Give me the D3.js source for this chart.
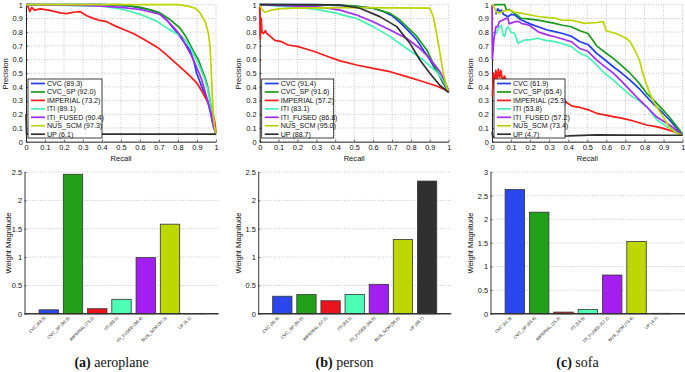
<!DOCTYPE html>
<html><head><meta charset="utf-8">
<script src="https://cdn.jsdelivr.net/npm/d3@7"></script>
<style>
body{margin:0;background:#fff}
svg{display:block}
text{font-family:"Liberation Sans",Arial,sans-serif}
text.caption{font-family:"Liberation Serif","Times New Roman",serif}
</style>
</head><body>
<svg id="chart" width="685" height="372"></svg>
<script>
// ---------------- DATA ----------------
const methods = ["CVC", "CVC_SP", "IMPERIAL", "ITI", "ITI_FUSED", "NUS_SCM", "UP"];
const classNames = ["aeroplane", "person", "sofa"];
const captionLetters = ["(a)", "(b)", "(c)"];

// average precision shown in legends / bar labels
const apAero = [89.3, 92.0, 73.2, 89.1, 90.4, 97.3, 6.1];
const apPerson = [91.4, 91.6, 57.2, 83.1, 86.8, 95.0, 88.7];
const apSofa = [61.9, 65.4, 25.3, 53.8, 57.2, 73.4, 4.7];

// weight magnitudes (bar charts)
const weightsAero = [0.07, 2.46, 0.09, 0.255, 0.99, 1.58, 0.004];
const weightsPerson = [0.31, 0.34, 0.23, 0.34, 0.52, 1.31, 2.34];
const weightsSofa = [2.63, 2.15, 0.036, 0.09, 0.82, 1.53, 0.01];

// tick values
const prTicks = [0, 0.1, 0.2, 0.3, 0.4, 0.5, 0.6, 0.7, 0.8, 0.9, 1];
const weightTicksAB = [0, 0.5, 1, 1.5, 2, 2.5];
const weightTicksC = [0, 0.5, 1, 1.5, 2, 2.5, 3];

// precision-recall curves: [recall, precision]
const aeroCVC = [[0,1],[0.4,1],[0.55,0.99],[0.63,0.97],[0.7,0.94],[0.74,0.89],[0.775,0.83],[0.8,0.79],[0.83,0.73],[0.863,0.67],[0.88,0.6],[0.89,0.55],[0.898,0.5],[0.912,0.45],[0.925,0.4],[0.942,0.35],[0.955,0.3],[0.968,0.23],[0.986,0.11],[1,0.06]];
const aeroCVCSP = [[0,1],[0.5,1],[0.6,0.98],[0.66,0.96],[0.705,0.94],[0.76,0.89],[0.81,0.83],[0.84,0.77],[0.863,0.71],[0.885,0.65],[0.907,0.6],[0.925,0.53],[0.942,0.47],[0.955,0.41],[0.963,0.35],[0.977,0.23],[0.99,0.11],[1,0.06]];
const aeroIMPERIAL = [[0.005,1],[0.01,0.99],[0.02,0.95],[0.03,0.98],[0.045,0.96],[0.075,0.97],[0.12,0.96],[0.18,0.94],[0.214,0.935],[0.25,0.945],[0.284,0.95],[0.32,0.92],[0.354,0.9],[0.39,0.885],[0.425,0.876],[0.477,0.84],[0.52,0.815],[0.565,0.79],[0.61,0.755],[0.653,0.72],[0.69,0.69],[0.72,0.657],[0.755,0.615],[0.79,0.572],[0.84,0.51],[0.87,0.47],[0.898,0.43],[0.925,0.37],[0.95,0.305],[0.97,0.25],[0.986,0.195],[0.995,0.13],[1,0.06]];
const aeroITI = [[0,1],[0.4,0.99],[0.5,0.97],[0.6,0.93],[0.688,0.88],[0.73,0.84],[0.758,0.815],[0.79,0.79],[0.82,0.768],[0.845,0.73],[0.863,0.69],[0.885,0.63],[0.907,0.57],[0.925,0.51],[0.942,0.45],[0.955,0.39],[0.968,0.3],[0.98,0.18],[0.99,0.1],[1,0.06]];
const aeroITIFUSED = [[0,1],[0.3,0.995],[0.4,0.99],[0.5,0.98],[0.6,0.965],[0.705,0.93],[0.75,0.875],[0.79,0.815],[0.82,0.76],[0.846,0.69],[0.87,0.63],[0.89,0.57],[0.908,0.51],[0.925,0.45],[0.95,0.33],[0.974,0.206],[0.99,0.097],[1,0.06]];
const aeroNUSSCM = [[0,1],[0.8,1],[0.85,0.99],[0.89,0.975],[0.91,0.95],[0.925,0.92],[0.945,0.87],[0.96,0.79],[0.968,0.7],[0.974,0.55],[0.98,0.35],[0.986,0.2],[0.993,0.1],[1,0.06]];
const aeroUP = [[0,0.2],[0.003,0.055],[1,0.055]];

const personCVC = [[0,1],[0.3,1],[0.5,0.99],[0.6,0.975],[0.654,0.95],[0.7,0.92],[0.75,0.86],[0.8,0.79],[0.83,0.745],[0.87,0.66],[0.9,0.6],[0.925,0.54],[0.945,0.5],[0.97,0.43],[1,0.36]];
const personCVCSP = [[0,1],[0.425,0.998],[0.5,0.99],[0.6,0.974],[0.69,0.937],[0.74,0.89],[0.778,0.84],[0.83,0.77],[0.884,0.67],[0.918,0.57],[0.954,0.475],[0.98,0.41],[1,0.365]];
const personIMPERIAL = [[0,0.985],[0.003,0.75],[0.008,0.9],[0.012,0.8],[0.02,0.79],[0.03,0.81],[0.037,0.79],[0.055,0.77],[0.08,0.74],[0.116,0.73],[0.15,0.706],[0.204,0.694],[0.25,0.675],[0.293,0.657],[0.363,0.62],[0.425,0.59],[0.513,0.56],[0.6,0.535],[0.69,0.511],[0.778,0.475],[0.866,0.438],[0.936,0.407],[0.98,0.38],[1,0.36]];
const personITI = [[0,1],[0.1,0.99],[0.2,0.98],[0.3,0.966],[0.4,0.94],[0.45,0.92],[0.513,0.9],[0.6,0.84],[0.69,0.767],[0.778,0.68],[0.866,0.596],[0.936,0.51],[0.97,0.45],[0.989,0.4],[1,0.36]];
const personITIFUSED = [[0,1],[0.2,0.99],[0.3,0.985],[0.36,0.975],[0.425,0.96],[0.513,0.925],[0.6,0.876],[0.69,0.815],[0.778,0.754],[0.848,0.68],[0.9,0.608],[0.954,0.51],[0.98,0.44],[1,0.37]];
const personNUSSCM = [[0,1],[0.01,0.97],[0.026,0.945],[0.04,0.95],[0.06,0.96],[0.1,0.97],[0.185,0.975],[0.5,0.978],[0.9,0.975],[0.918,0.915],[0.936,0.79],[0.954,0.645],[0.971,0.5],[0.993,0.38],[1,0.36]];
const personUP = [[0,1],[0.425,0.998],[0.53,0.974],[0.636,0.913],[0.725,0.84],[0.795,0.718],[0.848,0.596],[0.9,0.5],[0.954,0.41],[1,0.36]];

const sofaCVC = [[0.02,0.93],[0.03,0.97],[0.04,0.95],[0.05,0.96],[0.06,0.93],[0.084,0.912],[0.1,0.93],[0.119,0.925],[0.154,0.888],[0.2,0.86],[0.241,0.839],[0.29,0.815],[0.329,0.803],[0.37,0.79],[0.416,0.77],[0.461,0.73],[0.503,0.71],[0.549,0.645],[0.59,0.6],[0.636,0.547],[0.68,0.5],[0.724,0.45],[0.77,0.39],[0.811,0.328],[0.85,0.27],[0.898,0.206],[0.93,0.16],[0.969,0.097],[1,0.05]];
const sofaCVCSP = [[0.01,1],[0.04,1],[0.067,1],[0.075,0.96],[0.09,0.965],[0.119,0.937],[0.154,0.9],[0.2,0.895],[0.241,0.888],[0.29,0.875],[0.329,0.864],[0.37,0.85],[0.416,0.839],[0.461,0.81],[0.503,0.79],[0.549,0.7],[0.59,0.655],[0.636,0.608],[0.68,0.555],[0.724,0.5],[0.77,0.43],[0.811,0.353],[0.85,0.3],[0.898,0.23],[0.93,0.18],[0.969,0.11],[1,0.055]];
const sofaIMPERIAL = [[0.002,0.33],[0.008,0.5],[0.015,0.42],[0.02,0.52],[0.027,0.45],[0.033,0.53],[0.04,0.47],[0.047,0.52],[0.055,0.44],[0.065,0.48],[0.08,0.43],[0.1,0.41],[0.15,0.38],[0.2,0.36],[0.25,0.34],[0.3,0.32],[0.35,0.305],[0.388,0.29],[0.42,0.26],[0.461,0.25],[0.51,0.23],[0.549,0.207],[0.636,0.183],[0.685,0.17],[0.724,0.158],[0.811,0.122],[0.86,0.11],[0.898,0.097],[0.95,0.075],[1,0.05]];
const sofaITI = [[0.005,0.72],[0.015,0.8],[0.023,0.79],[0.035,0.83],[0.049,0.85],[0.058,0.78],[0.066,0.767],[0.075,0.82],[0.084,0.84],[0.1,0.8],[0.119,0.79],[0.136,0.718],[0.15,0.73],[0.171,0.742],[0.2,0.745],[0.241,0.755],[0.28,0.74],[0.329,0.73],[0.37,0.715],[0.416,0.694],[0.461,0.645],[0.503,0.62],[0.549,0.56],[0.59,0.5],[0.636,0.45],[0.68,0.395],[0.724,0.34],[0.77,0.3],[0.811,0.255],[0.864,0.16],[0.916,0.11],[0.96,0.08],[1,0.05]];
const sofaITIFUSED = [[0,1],[0.002,0.6],[0.01,0.75],[0.021,0.84],[0.031,0.84],[0.038,0.875],[0.06,0.89],[0.073,0.9],[0.084,0.9],[0.09,0.86],[0.119,0.876],[0.143,0.876],[0.154,0.864],[0.196,0.85],[0.241,0.803],[0.29,0.78],[0.329,0.766],[0.37,0.75],[0.416,0.73],[0.461,0.68],[0.503,0.66],[0.549,0.596],[0.59,0.55],[0.636,0.5],[0.68,0.44],[0.724,0.377],[0.77,0.31],[0.811,0.255],[0.864,0.18],[0.933,0.12],[0.97,0.08],[1,0.05]];
const sofaNUSSCM = [[0,1],[0.012,0.98],[0.02,0.95],[0.038,0.937],[0.06,0.955],[0.09,0.96],[0.12,0.945],[0.16,0.937],[0.2,0.925],[0.248,0.912],[0.3,0.905],[0.336,0.9],[0.363,0.888],[0.423,0.885],[0.486,0.864],[0.55,0.87],[0.584,0.876],[0.598,0.81],[0.65,0.79],[0.703,0.755],[0.724,0.73],[0.745,0.68],[0.772,0.6],[0.793,0.49],[0.81,0.42],[0.828,0.35],[0.86,0.26],[0.898,0.18],[0.933,0.1],[0.965,0.065],[1,0.047]];
const sofaUP = [[0,0.07],[0.005,0.035],[0.1,0.04],[0.4,0.043],[0.55,0.05],[0.7,0.048],[1,0.047]];

// ---------------- STYLE / LAYOUT ----------------
const lineColors = ["#1f3df5", "#1c9a1c", "#ff1a1a", "#45f2b2", "#a32cf5", "#bcd400", "#303030"];
const barColors  = ["#2a47ee", "#22a01a", "#e8141e", "#4dffb4", "#a21ff0", "#bcd800", "#303030"];

const panels = [
  {ap: apAero, weights: weightsAero, wTicks: weightTicksAB,
   curves: [aeroCVC, aeroCVCSP, aeroIMPERIAL, aeroITI, aeroITIFUSED, aeroNUSSCM, aeroUP]},
  {ap: apPerson, weights: weightsPerson, wTicks: weightTicksAB,
   curves: [personCVC, personCVCSP, personIMPERIAL, personITI, personITIFUSED, personNUSSCM, personUP]},
  {ap: apSofa, weights: weightsSofa, wTicks: weightTicksC,
   curves: [sofaCVC, sofaCVCSP, sofaIMPERIAL, sofaITI, sofaITIFUSED, sofaNUSSCM, sofaUP]}
];
const layout = [
  {x0: 26,    x1: 216,   legW: 74, labX: 5,   wlabX: 8,   capX: 111.5},
  {x0: 259.7, x1: 448.7, legW: 72, labX: 238, wlabX: 238, capX: 344.5},
  {x0: 492,   x1: 682.7, legW: 71, labX: 470, wlabX: 470, capX: 577.5}
];
const prTop = 4.7, prBottom = 141.7, barTop = 172, barBottom = 313.8;
const fmt = v => String(+v.toFixed(1));
const gridStyle = s => s.attr("stroke", "#9a9a9a").attr("stroke-width", 0.6).attr("stroke-dasharray", "1,1.6");

const svg = d3.select("#chart");
svg.append("rect").attr("width", 685).attr("height", 372).attr("fill", "#fff");

panels.forEach((pn, k) => {
  const L = layout[k];
  const g = svg.append("g");
  const labels = methods.map((m, i) => `${m} (${pn.ap[i].toFixed(1)})`);

  // ===== Precision-recall plot =====
  const x = d3.scaleLinear().domain([0, 1]).range([L.x0, L.x1]);
  const y = d3.scaleLinear().domain([0, 1]).range([prBottom, prTop]);

  g.append("g").selectAll("line").data(prTicks).join("line")
    .attr("x1", d => x(d)).attr("x2", d => x(d)).attr("y1", prTop).attr("y2", prBottom).call(gridStyle);
  g.append("g").selectAll("line").data(prTicks).join("line")
    .attr("y1", d => y(d)).attr("y2", d => y(d)).attr("x1", L.x0).attr("x2", L.x1).call(gridStyle);

  const xa = g.append("g").attr("transform", `translate(0,${prBottom})`)
    .call(d3.axisBottom(x).tickValues(prTicks).tickFormat(fmt).tickSizeInner(-2).tickSizeOuter(0).tickPadding(2.6));
  const ya = g.append("g").attr("transform", `translate(${L.x0},0)`)
    .call(d3.axisLeft(y).tickValues(prTicks).tickFormat(fmt).tickSizeInner(-2).tickSizeOuter(0).tickPadding(3.2));
  [xa, ya].forEach(a => {
    a.selectAll("text").attr("font-size", 7.4).attr("fill", "#111");
    a.select(".domain").attr("stroke", "#111").attr("stroke-width", 0.9);
    a.selectAll(".tick line").attr("stroke", "#111").attr("stroke-width", 0.6);
  });

  const line = d3.line().x(d => x(d[0])).y(d => y(d[1]));
  g.append("g").selectAll("path").data(pn.curves).join("path")
    .attr("d", line).attr("fill", "none")
    .attr("stroke", (d, i) => lineColors[i]).attr("stroke-width", 1.7).attr("stroke-linejoin", "round");

  g.append("text").attr("x", (L.x0 + L.x1) / 2).attr("y", 161).attr("text-anchor", "middle")
    .attr("font-size", 7.6).attr("fill", "#111").text("Recall");
  g.append("text").attr("transform", `translate(${L.labX},74) rotate(-90)`).attr("text-anchor", "middle")
    .attr("dy", "0.35em").attr("font-size", 7.6).attr("fill", "#111").text("Precision");

  // legend
  const lx = L.x0 + 2, ly = 79, lh = 59;
  const leg = g.append("g");
  leg.append("rect").attr("x", lx).attr("y", ly).attr("width", L.legW).attr("height", lh)
    .attr("fill", "#fff").attr("stroke", "#111").attr("stroke-width", 0.8);
  const items = leg.selectAll("g").data(labels).join("g")
    .attr("transform", (d, i) => `translate(${lx},${ly + 4.5 + i * 8.45})`);
  items.append("line").attr("x1", 3).attr("x2", 17).attr("y1", 0).attr("y2", 0)
    .attr("stroke", (d, i) => lineColors[i]).attr("stroke-width", 1.7);
  items.append("text").attr("x", 19).attr("y", 0).attr("dy", "0.35em").attr("font-size", 7.1)
    .attr("fill", "#111").text(d => d);

  // ===== Bar chart =====
  const xb = d3.scaleBand().domain(methods).range([L.x0 - 1.5, L.x1 + 2.5]).paddingInner(0.2).paddingOuter(0.6);
  const wMax = pn.wTicks[pn.wTicks.length - 1];
  const yb = d3.scaleLinear().domain([0, wMax]).range([barBottom, barTop]);

  g.append("g").selectAll("line").data(pn.wTicks.slice(1)).join("line")
    .attr("x1", L.x0 - 1.5).attr("x2", L.x1 + 2.5).attr("y1", d => yb(d)).attr("y2", d => yb(d)).call(gridStyle);

  const yba = g.append("g").attr("transform", `translate(${L.x0 - 1.5},0)`)
    .call(d3.axisLeft(yb).tickValues(pn.wTicks).tickFormat(d => String(d)).tickSizeInner(-2).tickSizeOuter(0).tickPadding(2.4));
  yba.selectAll("text").attr("font-size", 7.4).attr("fill", "#111");
  yba.select(".domain").attr("stroke", "#222").attr("stroke-width", 0.9);
  yba.selectAll(".tick line").attr("stroke", "#222").attr("stroke-width", 0.6);

  g.append("g").selectAll("rect").data(pn.weights).join("rect")
    .attr("x", (d, i) => xb(methods[i])).attr("width", xb.bandwidth())
    .attr("y", d => yb(d)).attr("height", d => barBottom - yb(d))
    .attr("fill", (d, i) => barColors[i]).attr("stroke", "#333").attr("stroke-width", 0.8);

  g.append("line").attr("x1", L.x0 - 1.5).attr("x2", L.x1 + 2.5).attr("y1", barBottom).attr("y2", barBottom)
    .attr("stroke", "#333").attr("stroke-width", 1.6);

  g.append("g").selectAll("text").data(labels).join("text")
    .attr("transform", (d, i) => `translate(${xb(methods[i]) + xb.bandwidth() / 2 - 3},${barBottom + 4.5}) rotate(-45)`)
    .attr("text-anchor", "end").attr("font-size", 4.3).attr("fill", "#222").text(d => d);

  g.append("text").attr("transform", `translate(${L.wlabX},243) rotate(-90)`).attr("text-anchor", "middle")
    .attr("dy", "0.35em").attr("font-size", 7.6).attr("fill", "#111").text("Weight Magnitude");

  // caption
  const cap = g.append("text").attr("class", "caption").attr("x", L.capX).attr("y", 366.5).attr("text-anchor", "middle")
    .attr("font-size", 14).attr("fill", "#111");
  cap.append("tspan").attr("font-weight", "bold").text(captionLetters[k]);
  cap.append("tspan").text(" " + classNames[k]);
});
</script>
</body></html>
